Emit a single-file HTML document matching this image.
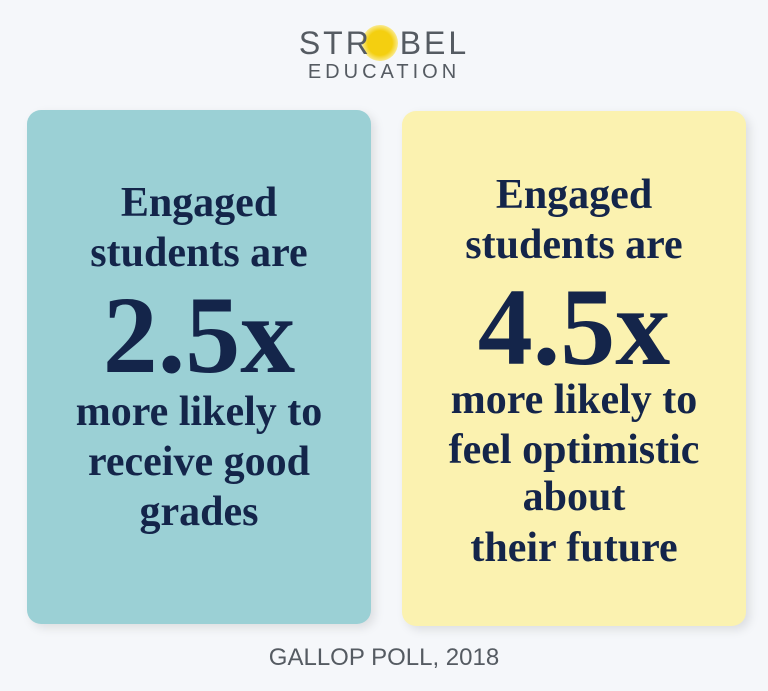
<!DOCTYPE html>
<html><head><meta charset="utf-8"><style>
body{margin:0;width:768px;height:691px;background:#f5f7fa;position:relative;overflow:hidden;font-family:"Liberation Serif",serif}
.card{position:absolute;border-radius:14px;box-shadow:4px 4px 10px rgba(0,0,0,0.10)}
.l{position:absolute;left:0;width:100%;text-align:center;color:#14254a;font-weight:bold;font-size:42px;line-height:44px;white-space:nowrap;transform:translateY(-50%)}
.big{font-size:110px;line-height:110px}
.logo{position:absolute;font-family:"Liberation Sans",sans-serif;color:#555b62;text-align:center;width:768px;left:0}
</style></head><body>
<div>
<div style="position:absolute;left:362px;top:25px;width:36px;height:36px;border-radius:50%;background:radial-gradient(circle,#f4cf10 48%,#f9e98a 70%,rgba(250,240,160,0) 100%)"></div>
<div class="logo" style="top:26px;font-size:32px;letter-spacing:3px;line-height:34px">STR<span style="opacity:0">O</span>BEL</div>
<div class="logo" style="top:61px;font-size:20px;letter-spacing:4px;line-height:22px">EDUCATION</div>
</div>
<div class="card" style="left:27px;top:110px;width:344px;height:514px;background:#9bd0d5">
<div class="l" style="top:93px">Engaged</div>
<div class="l" style="top:143px">students are</div>
<div class="l big" style="top:225px">2.5x</div>
<div class="l" style="top:302px">more likely to</div>
<div class="l" style="top:352px">receive good</div>
<div class="l" style="top:402px">grades</div>
</div>
<div class="card" style="left:402px;top:111px;width:344px;height:515px;background:#fbf2b0">
<div class="l" style="top:84px">Engaged</div>
<div class="l" style="top:134px">students are</div>
<div class="l big" style="top:216px">4.5x</div>
<div class="l" style="top:289px">more likely to</div>
<div class="l" style="top:339px">feel optimistic</div>
<div class="l" style="top:386px">about</div>
<div class="l" style="top:437px">their future</div>
</div>
<div style="position:absolute;left:0;width:768px;top:644px;text-align:center;font-family:'Liberation Sans',sans-serif;font-size:24px;line-height:28px;color:#555b62">GALLOP POLL, 2018</div>
</body></html>
